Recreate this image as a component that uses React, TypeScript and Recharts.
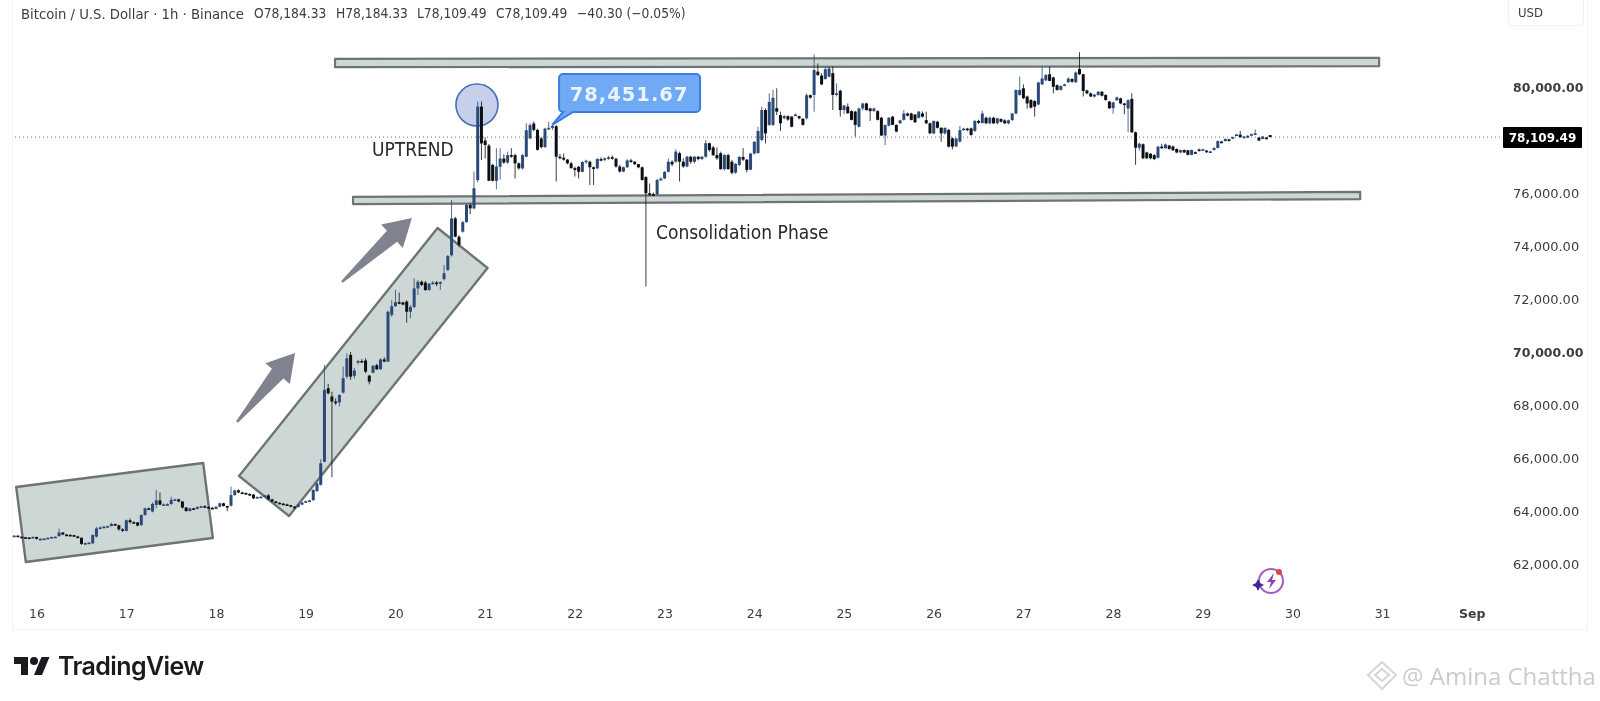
import React from "react";
import { ComposedChart, Bar, XAxis, YAxis, ReferenceLine, ReferenceDot } from "recharts";

// Hourly candles [open, high, low, close], one small list per day (Aug 15 evening to Aug 29)
const aug15 = [[63060,63090,63040,63070],[63070,63080,63020,63030],[63030,63040,62990,63010],[63010,63020,62990,63000],[63000,63010,62980,62990],[62990,63040,62980,63020]];
const aug16 = [[63020,63030,62920,62950],[62950,62970,62930,62950],[62950,62970,62930,62960],[62960,63000,62950,62990],[62990,63030,62970,63020],[63020,63040,63000,63030],[63050,63340,63040,63190],[63190,63200,63090,63110],[63110,63130,63090,63100],[63100,63120,63060,63090],[63090,63100,63020,63040],[63040,63060,62960,62990],[62990,63000,62720,62760],[62760,62810,62730,62790],[62790,62820,62750,62810],[62780,63120,62750,63090],[63030,63400,63000,63340],[63340,63420,63310,63380],[63380,63440,63350,63410],[63410,63450,63390,63430],[63430,63560,63420,63510],[63510,63530,63440,63460],[63460,63480,63250,63310],[63310,63350,63210,63250]];
const aug17 = [[63250,63680,63230,63650],[63650,63720,63520,63580],[63580,63610,63540,63570],[63570,63580,63420,63450],[63470,63870,63440,63850],[63850,64130,63820,64100],[64100,64130,64040,64070],[63980,64320,63950,64270],[64230,64800,64100,64400],[64400,64700,64220,64240],[64240,64290,64190,64250],[64250,64290,64200,64260],[64260,64540,64240,64420],[64420,64470,64380,64440],[64440,64460,64330,64360],[64360,64380,64090,64130],[64130,64150,63970,64000],[64000,64130,63980,64100],[64100,64120,64040,64080],[64080,64180,64060,64150],[64150,64200,64120,64180],[64180,64220,64130,64150],[64150,64180,64090,64120],[64120,64160,64060,64080]];
const aug18 = [[64080,64180,64060,64160],[64160,64320,64140,64290],[64290,64310,64170,64190],[64190,64200,63990,64140],[64200,64920,64160,64600],[64600,64800,64580,64780],[64780,64820,64680,64700],[64700,64730,64650,64680],[64680,64700,64620,64640],[64640,64680,64590,64620],[64620,64640,64450,64480],[64480,64550,64470,64530],[64530,64560,64510,64540],[64540,64610,64520,64590],[64590,64640,64420,64440],[64440,64460,64340,64360],[64360,64380,64290,64310],[64310,64330,64260,64280],[64280,64300,64220,64250],[64250,64280,64200,64220],[64220,64230,64140,64160],[64160,64190,64130,64150],[64150,64260,64130,64240],[64240,64340,64220,64320]];
const aug19 = [[64320,64400,64300,64370],[64370,64420,64340,64400],[64410,64830,64380,64790],[64750,65100,64720,65040],[64990,65950,64950,65800],[65860,69510,65840,68570],[68630,68800,68400,68440],[68320,68500,65270,68130],[68130,68250,68000,68100],[68100,68400,67950,68380],[68470,69450,68430,69010],[69070,69950,69000,69760],[69890,70000,68950,69070],[69100,69400,69000,69300],[69600,69700,69530,69660],[69660,69730,69600,69640],[69680,69760,69200,69260],[69110,69130,68780,68880],[69220,69510,69190,69480],[69500,69560,69320,69350],[69350,69760,69330,69720],[69720,69800,69610,69640],[69640,71560,69620,71520],[71400,71960,71320,71730]];
const aug20 = [[71730,72340,71700,71880],[71880,72240,71800,71870],[71870,71900,71760,71790],[71900,71950,71110,71520],[71520,71780,71270,71700],[71700,72780,71650,72400],[72400,72720,72150,72650],[72650,72700,72480,72530],[72620,72680,72300,72340],[72340,72600,72300,72580],[72580,72680,72540,72620],[72620,72680,72480,72580],[72580,72670,72340,72640],[72750,73280,72700,72970],[73100,73660,73050,73620],[73650,75740,73600,75040],[75040,75100,74330,74350],[74350,74400,73960,74040],[74540,74950,74500,74900],[74900,75600,74880,75550],[75550,75620,75200,75420],[75420,76810,75380,76180],[76490,79450,76400,79260],[79260,79450,77240,77870]];
const aug21 = [[77980,78100,77300,77810],[77790,77850,76450,76460],[77060,77100,76440,76460],[76460,77690,76140,77000],[76990,77690,76500,77300],[77300,77460,77100,77150],[77150,77560,77100,77430],[77430,77690,77330,77370],[77430,77480,76550,77120],[77120,77150,76880,76930],[76930,77470,76880,77430],[77370,78630,77340,78370],[78060,78640,78030,78560],[78620,78700,78330,78380],[78380,78420,77600,77630],[78060,78120,77680,77730],[77730,78460,77700,78430],[78430,78690,78380,78460],[78460,78570,78380,78530],[78520,78560,76430,77370],[77370,77470,77270,77330],[77330,77490,77220,77260],[77260,77280,77080,77120],[77120,77180,76910,76940]];
const aug22 = [[76940,77000,76620,76870],[76990,77020,76550,76800],[76800,77200,76780,77170],[77170,77260,77100,77220],[77180,77220,76300,76970],[76970,77000,76300,76930],[76930,77320,76900,77280],[77280,77350,77200,77260],[77260,77340,77200,77310],[77310,77400,77250,77350],[77350,77420,77260,77290],[77290,77330,76950,77000],[77000,77060,76770,76810],[76810,77000,76780,76970],[76970,77270,76950,77230],[77230,77290,77140,77180],[77180,77200,77050,77090],[77090,77100,76930,76970],[76970,77000,76470,76490],[76600,76640,72470,75990],[75990,76360,75880,75960],[75960,76020,75890,75950],[75950,76530,75920,76490],[76490,76600,76450,76540]];
const aug23 = [[76550,76830,76520,76800],[76800,77310,76770,77180],[77180,77230,77010,77080],[77180,77650,77140,77560],[77500,77560,76430,77180],[77180,77310,76950,77000],[77000,77400,76970,77370],[77370,77400,77100,77180],[77180,77400,77120,77370],[77370,77390,77230,77280],[77280,77400,77240,77370],[77370,78000,77330,77880],[77880,77900,77560,77620],[77720,77780,77400,77430],[77430,77720,77250,77310],[77500,77560,76880,76900],[76900,77470,76850,77430],[77430,77480,76880,76900],[77180,77250,76700,76760],[76770,77130,76720,77100],[77060,77400,77020,77360],[77360,77690,77210,77260],[77260,77280,76780,76870],[76880,77520,76860,77490]];
const aug24 = [[77490,77960,77450,77930],[77510,78500,77480,78340],[78000,79260,77950,79130],[79130,79200,77870,78250],[78570,79760,78530,79440],[78570,79890,78530,79590],[79200,79950,78940,79070],[78940,79070,78340,78630],[78820,78950,78780,78900],[78900,78930,78730,78770],[78880,78900,78480,78500],[78920,79000,78900,78960],[78900,78920,78780,78820],[78800,78830,78540,78570],[78820,79760,78780,79690],[79690,79720,79560,79600],[79700,81230,79070,80640],[80580,80890,80420,80450],[80430,80520,80070,80100],[80300,80770,80280,80670],[80390,80770,80360,80700],[80520,80770,79130,79700],[79700,80140,79640,79760],[79860,79900,78880,79130]];
const aug25 = [[79130,79330,78980,79300],[79260,79380,78990,79010],[79090,79120,78740,78760],[79070,79100,78130,78570],[78500,79220,78470,79190],[79190,79400,79110,79380],[79380,79410,79110,79130],[79190,79220,78720,79090],[79090,79220,79070,79190],[79090,79120,78740,78760],[78840,78870,78150,78170],[78170,78590,77810,78560],[78540,78860,78510,78840],[78880,78910,78560,78570],[78570,78590,78290,78320],[78630,78760,78600,78740],[78760,79130,78730,79000],[79000,79030,78890,78920],[79000,79030,78740,78760],[78960,78980,78640,78670],[78840,79100,78800,79070],[79000,79080,78850,78880],[78750,79070,78600,78630],[78630,78660,78230,78250]];
const aug26 = [[78250,78730,78220,78720],[78690,78720,78430,78460],[78460,78480,77930,78250],[78250,78470,78200,78460],[78380,78420,77720,77750],[78060,78100,77650,77750],[77760,78080,77730,78060],[77940,78530,77900,78370],[78370,78460,78350,78430],[78430,78460,78330,78380],[78440,78470,78160,78190],[78340,78750,78300,78720],[78720,78760,78600,78650],[78640,79100,78620,79000],[78840,78880,78600,78630],[78630,78880,78590,78840],[78840,78880,78600,78630],[78630,78840,78590,78820],[78790,78820,78660,78690],[78740,78780,78600,78630],[78630,78770,78590,78740],[78750,79020,78720,79000],[79000,79900,78970,79890],[79700,80390,79670,79890]];
const aug27 = [[79950,80100,79540,79580],[79640,79680,79180,79380],[79510,79540,79190,79220],[79470,79500,78880,79260],[79340,80200,79310,80170],[80100,80770,80070,80320],[80250,80490,80220,80450],[80480,80770,80220,80230],[80360,80390,79760,80010],[80070,80100,79860,79890],[79890,80060,79860,80040],[80040,80120,80030,80100],[80180,80360,80150,80320],[80300,80330,80160,80200],[80180,80580,80150,80550],[80680,81310,80450,80480],[80480,80500,79640,79850],[79870,79900,79730,79760],[79760,79790,79620,79640],[79640,79740,79600,79710],[79700,79850,79670,79820],[79820,79850,79640,79670],[79700,79730,79480,79510],[79450,79480,79170,79200]];
const aug28 = [[79200,79440,78990,79420],[79500,79640,79480,79610],[79570,79600,79350,79380],[79380,79400,78970,79320],[79190,79540,78290,79500],[79550,79760,78270,78290],[78290,78320,77060,77710],[77710,77900,77600,77860],[77840,77870,77280,77310],[77530,77560,77280,77310],[77480,77510,77270,77310],[77430,77460,77240,77280],[77330,77780,77300,77750],[77750,77860,77660,77690],[77690,77860,77670,77830],[77790,77820,77640,77660],[77760,77790,77590,77610],[77660,77680,77500,77530],[77530,77640,77500,77620],[77620,77650,77510,77530],[77610,77630,77420,77440],[77440,77640,77420,77620],[77540,77570,77480,77510],[77640,77680,77570,77600]];
const aug29 = [[77600,77670,77590,77650],[77600,77620,77510,77540],[77540,77590,77510,77570],[77620,77720,77610,77700],[77700,77980,77680,77960],[77940,77970,77880,77900],[77960,78060,77940,78040],[78020,78050,77950,77970],[78060,78130,78040,78110],[78170,78230,78150,78210],[78200,78340,78080,78110],[78070,78150,78050,78130],[78090,78180,78070,78160],[78200,78240,78180,78220],[78220,78400,78200,78250],[78090,78110,77960,77980],[78040,78150,78020,78130],[78090,78120,78030,78060],[78184.33,78184.33,78109.49,78109.49]];

const days = [aug15, aug16, aug17, aug18, aug19, aug20, aug21, aug22, aug23, aug24, aug25, aug26, aug27, aug28, aug29];
const firstHour = -6;
const table = days.flat().map((c, i) => ({ t: firstHour + i, open: c[0], high: c[1], low: c[2], close: c[3] }));

const dayLabels = ["16","17","18","19","20","21","22","23","24","25","26","27","28","29","30","31","Sep"];
const dayTicks = dayLabels.map((_, i) => i * 24);
const lastPrice = 78109.49;
const priceTicks = [80000, lastPrice, 76000, 74000, 72000, 70000, 68000, 66000, 64000, 62000];
const boldPrices = [80000, 70000];
const xDomain = [-6.69, 391.4];
const yDomain = [60641.5, 83283];

const UP = "#2b4a78";
const DOWN = "#0e0f14";
const RECT_FILL = "#cdd7d5";
const RECT_STROKE = "#6e7473";
const ARROW = "#80838f";
const FONT = '"DejaVu Sans", sans-serif';

const Candle = (p: any) => {
  const { x, y, width, height, payload } = p;
  const perPrice = height / (payload.high - payload.low || 1);
  const top = y + (payload.high - Math.max(payload.open, payload.close)) * perPrice;
  const bodyH = Math.max(1.6, Math.abs(payload.open - payload.close) * perPrice);
  const color = payload.close >= payload.open ? UP : DOWN;
  const cx = x + width / 2;
  return (
    <g>
      <line x1={cx} x2={cx} y1={y} y2={y + height} stroke={color} strokeWidth={1} opacity={0.8} />
      <rect x={x} y={top} width={width} height={bodyH} fill={color} />
    </g>
  );
};

const band = (half: number, sw: number) => (p: any) => {
  const { x1, y1, x2, y2 } = p;
  const len = Math.hypot(x2 - x1, y2 - y1);
  const nx = (-(y2 - y1) / len) * half;
  const ny = ((x2 - x1) / len) * half;
  const pts = [[x1 + nx, y1 + ny], [x2 + nx, y2 + ny], [x2 - nx, y2 - ny], [x1 - nx, y1 - ny]];
  return <polygon points={pts.map((q) => q.join(",")).join(" ")} fill={RECT_FILL} stroke={RECT_STROKE} strokeWidth={sw} strokeLinejoin="round" />;
};

const arrow = (p: any) => {
  const { x1, y1, x2, y2 } = p;
  const len = Math.hypot(x2 - x1, y2 - y1);
  const ux = (x2 - x1) / len, uy = (y2 - y1) / len;
  const nx = -uy, ny = ux;
  const bx = x2 - ux * 27, by = y2 - uy * 27;
  const pt = (a: number, b: number, w: number) => `${a + nx * w},${b + ny * w}`;
  const pts = [pt(x1, y1, 1.2), pt(bx, by, 7.5), pt(bx, by, 16), `${x2},${y2}`, pt(bx, by, -16), pt(bx, by, -7.5), pt(x1, y1, -1.2)];
  return <polygon points={pts.join(" ")} fill={ARROW} />;
};

const callout = (p: any) => {
  const { x1: x, y1: y } = p;
  const path = `M${x + 11} ${y - 51} h133 a4 4 0 0 1 4 4 v30 a4 4 0 0 1 -4 4 h-123 L${x} ${y} L${x + 11} ${y - 13} h-0 a4 4 0 0 1 -4 -4 v-30 a4 4 0 0 1 4 -4 z`;
  return (
    <g>
      <path d={path} fill="#70aaf5" stroke="#3b7be3" strokeWidth={2} />
      <text x={x + 77} y={y - 24} textAnchor="middle" fontFamily={FONT} fontSize={19.5} fontWeight={700} letterSpacing={1} fill="#eaf3ff">78,451.67</text>
    </g>
  );
};

const label = (text: string) => (p: any) => (
  <text x={p.cx} y={p.cy + 1} dominantBaseline="middle" fontFamily={FONT} fontSize={19} fontStretch="condensed" fill="#26282c">{text}</text>
);

const XTick = (p: any) => {
  const i = dayTicks.indexOf(p.payload.value);
  const txt = dayLabels[i];
  return <text x={p.x} y={618} textAnchor="middle" fontFamily={FONT} fontSize={12.5} fontWeight={txt === "Sep" ? 700 : 400} fill="#3a3d42">{txt}</text>;
};

const YTick = (p: any) => {
  const v = p.payload.value;
  const txt = v.toLocaleString("en-US", { minimumFractionDigits: 2, maximumFractionDigits: 2 });
  if (v === lastPrice) {
    return (
      <g>
        <rect x={1503} y={p.y - 10} width={79} height={21} fill="#000" rx={1} />
        <text x={1542.5} y={p.y + 1.5} textAnchor="middle" dominantBaseline="middle" fontFamily={FONT} fontSize={12} fontWeight={700} fill="#fff">{txt}</text>
      </g>
    );
  }
  const bold = boldPrices.includes(v);
  return <text x={1513} y={p.y + 1.5} dominantBaseline="middle" fontFamily={FONT} fontSize={bold ? 12.5 : 13} fontWeight={bold ? 700 : 400} fill="#3a3d42">{txt}</text>;
};

const headerItems: [number, string][] = [
  [21, "Bitcoin / U.S. Dollar · 1h · Binance"],
  [254, "O78,184.33"],
  [336, "H78,184.33"],
  [417, "L78,109.49"],
  [496, "C78,109.49"],
  [577, "−40.30 (−0.05%)"],
];

export default function App() {
  return (
    <div style={{ position: "absolute", left: 0, top: 0, width: 1600, height: 701, background: "#fff", overflow: "hidden", filter: "blur(0.35px)" }}>
      <div style={{ position: "absolute", left: 12, top: -2, width: 1576, height: 632, border: "1px solid #f2f3f4", boxSizing: "border-box" }} />
      <div style={{ position: "absolute", left: 1508, top: -4, width: 76, height: 30, border: "1px solid #f0f1f2", borderRadius: 4, boxSizing: "border-box", background: "#fff" }} />
      <ComposedChart width={1600} height={701} data={table} margin={{ top: 0, right: 0, bottom: 71, left: 12 }} style={{ position: "absolute", left: 0, top: 0 }}>
        <XAxis dataKey="t" type="number" scale="linear" domain={xDomain} ticks={dayTicks} interval={0} height={30} axisLine={false} tickLine={false} tick={XTick} allowDataOverflow />
        <YAxis orientation="right" type="number" domain={yDomain} ticks={priceTicks} interval={0} width={100} axisLine={false} tickLine={false} tick={YTick} allowDataOverflow />
        <ReferenceLine zIndex={10} y={lastPrice} stroke="#6b6f75" strokeWidth={1} strokeDasharray="1 3" />
        <ReferenceLine zIndex={20} segment={[{ x: -4.28, y: 63491 }, { x: 45.75, y: 64396 }]} shape={band(37.8, 2.4)} />
        <ReferenceLine zIndex={20} segment={[{ x: 60.74, y: 64566 }, { x: 113.85, y: 73925 }]} shape={band(32, 2.4)} />
        <ReferenceLine zIndex={20} segment={[{ x: 79.73, y: 80906 }, { x: 359.06, y: 80943 }]} shape={band(4.2, 2.2)} />
        <ReferenceLine zIndex={20} segment={[{ x: 84.55, y: 75717 }, { x: 354, y: 75906 }]} shape={band(3.6, 2.2)} />
        <ReferenceLine zIndex={20} segment={[{ x: 53.5, y: 67358 }, { x: 69.03, y: 69962 }]} shape={arrow} />
        <ReferenceLine zIndex={20} segment={[{ x: 81.6, y: 72642 }, { x: 100.3, y: 75057 }]} shape={arrow} />
        <ReferenceDot zIndex={20} x={117.7} y={79321} r={21} fill="#c6d0ea" stroke="#4c6db6" strokeWidth={1.6} />
        <ReferenceDot zIndex={20} x={89.6} y={77623} r={1} shape={label("UPTREND")} />
        <ReferenceDot zIndex={20} x={165.6} y={74528} r={1} shape={label("Consolidation Phase")} />
        <Bar zIndex={300} dataKey={(d: any) => [d.low, d.high]} barSize={3} shape={Candle} isAnimationActive={false} />
        <ReferenceLine zIndex={400} segment={[{ x: 137.8, y: 78566 }, { x: 137.9, y: 78566 }]} shape={callout} />
      </ComposedChart>

      {headerItems.map(([left, text], i) => (
        <span key={left} style={{ position: "absolute", left, top: 5, fontFamily: FONT, fontStretch: "condensed", fontSize: i === 0 ? 14.7 : 13.7, color: "#3a3d42", whiteSpace: "pre" }}>{text}</span>
      ))}
      <span style={{ position: "absolute", left: 1518, top: 5, fontFamily: FONT, fontStretch: "condensed", fontSize: 13, color: "#3a3d42" }}>USD</span>

      <svg width={1600} height={701} style={{ position: "absolute", left: 0, top: 0, pointerEvents: "none" }}>
        <g transform="translate(14,653)" fill="#1a1b1f">
          <path d="M14 22H7V11H0V4h14v18zM28 22h-8l7.5-18h8L28 22z" />
          <circle cx={20} cy={8} r={4} />
        </g>
        <text x={58} y={675} fontFamily="Inter, sans-serif" fontSize={25} fontWeight={600} letterSpacing={-0.6} fill="#1a1b1f">TradingView</text>
        <g fill="none" stroke="#d4d6d8" strokeWidth={2}>
          <path d="M1382 662l14 13-14 14-14-14z" />
          <path d="M1375 675l7-6 7 6-7 6z" />
        </g>
        <text x={1402} y={685} fontFamily='"Open Sans", sans-serif' fontSize={24} fill="#c9cbcd">@ Amina Chattha</text>
        <g>
          <circle cx={1271} cy={581} r={12} fill="none" stroke="#a45cc6" strokeWidth={2} />
          <path d="M1274 573l-7 9h4l-2 7 7-9h-4z" fill="#8a3fc0" />
          <path d="M1258 579l2 4 4 2-4 2-2 4-2-4-4-2 4-2z" fill="#41259a" />
          <circle cx={1279} cy={572} r={3} fill="#e0453f" />
        </g>
      </svg>
    </div>
  );
}
